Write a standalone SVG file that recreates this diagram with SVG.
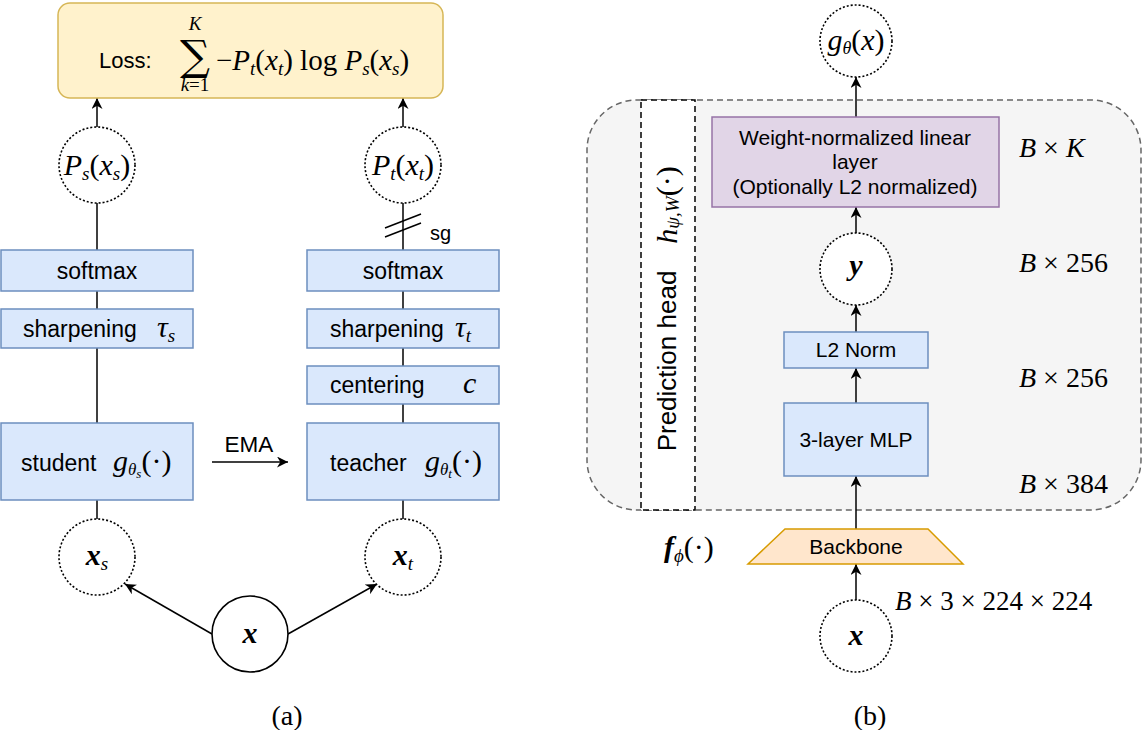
<svg xmlns="http://www.w3.org/2000/svg" width="1144" height="730" viewBox="0 0 1144 730">
<defs>
<marker id="arr" viewBox="0 0 10 10" refX="10" refY="5" markerWidth="11" markerHeight="11" markerUnits="userSpaceOnUse" orient="auto">
<path d="M0,0 L10,5 L0,10 L3,5 z" fill="#000"/>
</marker>
<style>
.sans{font-family:"Liberation Sans",Arial,sans-serif;font-size:21px;fill:#000}
.m{font-family:"Liberation Serif","Times New Roman",serif;font-style:italic;font-size:30px;fill:#000}
.d{font-family:"Liberation Serif","Times New Roman",serif;font-style:italic;font-size:28px;fill:#000}
.r{font-style:normal}
.cap{font-family:"Liberation Serif","Times New Roman",serif;font-size:28px;fill:#000}
.blue{fill:#dae8fc;stroke:#6c8ebf;stroke-width:1.5}
.dot{fill:#fff;stroke:#000;stroke-width:1.6;stroke-dasharray:2,2}
.ln{stroke:#000;stroke-width:1.5;fill:none}
</style>
</defs>
<rect width="1144" height="730" fill="#fff"/>

<!-- panel (b) container -->
<g id="container">
<rect x="587" y="100" width="554" height="410" rx="50" ry="50" fill="#f5f5f5" stroke="#666" stroke-width="1.5" stroke-dasharray="6,4"/>
</g>
<g id="prediction-head">
<rect x="641" y="100" width="54" height="410" fill="#fff" stroke="#000" stroke-width="1.5" stroke-dasharray="6,4"/>
<text class="sans" x="667" y="361" style="font-size:26px" text-anchor="middle" dominant-baseline="central" transform="rotate(-90 667 361)">Prediction head</text>
<text class="m" x="666" y="205" text-anchor="middle" dominant-baseline="central" transform="rotate(-90 666 205)">h<tspan font-size="19" dy="6">ψ,W</tspan><tspan class="r" dy="-6">(·)</tspan></text>
</g>

<g id="connectors">
<!-- panel a -->
<line class="ln" x1="97" y1="127" x2="97" y2="98" marker-end="url(#arr)"/>
<line class="ln" x1="403" y1="127" x2="403" y2="98" marker-end="url(#arr)"/>
<line class="ln" x1="97" y1="203" x2="97" y2="250"/>
<line class="ln" x1="97" y1="291" x2="97" y2="309"/>
<line class="ln" x1="97" y1="348" x2="97" y2="423"/>
<line class="ln" x1="97" y1="500" x2="97" y2="519"/>
<line class="ln" x1="403" y1="203" x2="403" y2="250"/>
<line class="ln" x1="403" y1="291" x2="403" y2="309"/>
<line class="ln" x1="403" y1="348" x2="403" y2="366"/>
<line class="ln" x1="403" y1="404" x2="403" y2="423"/>
<line class="ln" x1="403" y1="500" x2="403" y2="519"/>
<line class="ln" x1="385" y1="228" x2="421" y2="214"/>
<line class="ln" x1="385" y1="237" x2="421" y2="223"/>
<line class="ln" x1="212" y1="462" x2="288" y2="462" marker-end="url(#arr)"/>
<line class="ln" x1="212" y1="634" x2="125" y2="584" marker-end="url(#arr)"/>
<line class="ln" x1="288" y1="634" x2="377" y2="584" marker-end="url(#arr)"/>
<!-- panel b -->
<line class="ln" x1="856" y1="117" x2="856" y2="77" marker-end="url(#arr)"/>
<line class="ln" x1="856" y1="233" x2="856" y2="207" marker-end="url(#arr)"/>
<line class="ln" x1="856" y1="332" x2="856" y2="305" marker-end="url(#arr)"/>
<line class="ln" x1="856" y1="403" x2="856" y2="368" marker-end="url(#arr)"/>
<line class="ln" x1="856" y1="529" x2="856" y2="476" marker-end="url(#arr)"/>
<line class="ln" x1="856" y1="600" x2="856" y2="564" marker-end="url(#arr)"/>
</g>
<text class="sans" x="430" y="240" style="font-size:20px">sg</text>
<text class="sans" x="249" y="452" style="font-size:22.5px" text-anchor="middle">EMA</text>

<!-- panel a nodes -->
<g id="loss">
<rect x="58" y="3" width="385" height="95" rx="12" ry="12" fill="#fff2cc" stroke="#d6b656" stroke-width="1.5"/>
<text class="sans" x="99" y="68" style="font-size:22px">Loss:</text>
<text x="195" y="70" font-family="'DejaVu Serif',serif" font-size="42" text-anchor="middle">∑</text>
<text class="m" x="195" y="30" style="font-size:19px" text-anchor="middle">K</text>
<text class="m" x="195" y="91" style="font-size:19px" text-anchor="middle">k<tspan class="r">=1</tspan></text>
<text class="m" x="216" y="70" style="font-size:29px"><tspan class="r">−</tspan>P<tspan font-size="19" dy="5">t</tspan><tspan class="r" dy="-5">(</tspan>x<tspan font-size="19" dy="5">t</tspan><tspan class="r" dy="-5">) log </tspan>P<tspan font-size="19" dy="5">s</tspan><tspan class="r" dy="-5">(</tspan>x<tspan font-size="19" dy="5">s</tspan><tspan class="r" dy="-5">)</tspan></text>
</g>
<g id="ps">
<circle class="dot" cx="97" cy="165" r="38"/>
<text class="m" x="97" y="175" text-anchor="middle">P<tspan font-size="19" dy="5">s</tspan><tspan class="r" dy="-5">(</tspan>x<tspan font-size="19" dy="5">s</tspan><tspan class="r" dy="-5">)</tspan></text>
</g>
<g id="pt">
<circle class="dot" cx="403" cy="165" r="38"/>
<text class="m" x="403" y="175" text-anchor="middle">P<tspan font-size="19" dy="5">t</tspan><tspan class="r" dy="-5">(</tspan>x<tspan font-size="19" dy="5">t</tspan><tspan class="r" dy="-5">)</tspan></text>
</g>
<g id="softmax-s">
<rect class="blue" x="1" y="250" width="192" height="41"/>
<text class="sans" x="97" y="279" style="font-size:23px" text-anchor="middle">softmax</text>
</g>
<g id="sharpen-s">
<rect class="blue" x="1" y="309" width="192" height="39"/>
<text class="sans" x="23" y="337" style="font-size:23px">sharpening</text>
<text class="m" x="157" y="337">τ<tspan font-size="19" dy="5">s</tspan></text>
</g>
<g id="student">
<rect class="blue" x="1" y="423" width="192" height="77"/>
<text class="sans" x="21" y="471" style="font-size:23px">student</text>
<text class="m" x="113" y="471">g<tspan font-size="17" dy="4">θ</tspan><tspan font-size="13" dy="3">s</tspan><tspan class="r" dy="-7">(·)</tspan></text>
</g>
<g id="softmax-t">
<rect class="blue" x="307" y="250" width="192" height="41"/>
<text class="sans" x="403" y="279" style="font-size:23px" text-anchor="middle">softmax</text>
</g>
<g id="sharpen-t">
<rect class="blue" x="307" y="309" width="192" height="39"/>
<text class="sans" x="330" y="337" style="font-size:23px">sharpening</text>
<text class="m" x="455" y="337">τ<tspan font-size="19" dy="5">t</tspan></text>
</g>
<g id="centering">
<rect class="blue" x="307" y="366" width="192" height="38"/>
<text class="sans" x="330" y="393" style="font-size:23px">centering</text>
<text class="m" x="463" y="393">c</text>
</g>
<g id="teacher">
<rect class="blue" x="307" y="423" width="192" height="77"/>
<text class="sans" x="330" y="471" style="font-size:23px">teacher</text>
<text class="m" x="425" y="471">g<tspan font-size="17" dy="4">θ</tspan><tspan font-size="13" dy="3">t</tspan><tspan class="r" dy="-7">(·)</tspan></text>
</g>
<g id="xs">
<circle class="dot" cx="97" cy="557" r="38"/>
<text class="m" x="97" y="565" font-weight="bold" text-anchor="middle">x<tspan font-size="19" font-weight="normal" dy="5">s</tspan></text>
</g>
<g id="xt">
<circle class="dot" cx="403" cy="557" r="38"/>
<text class="m" x="403" y="565" font-weight="bold" text-anchor="middle">x<tspan font-size="19" font-weight="normal" dy="5">t</tspan></text>
</g>
<g id="x-a">
<circle cx="250" cy="634" r="38" fill="#fff" stroke="#000" stroke-width="1.6"/>
<text class="m" x="250" y="643" font-weight="bold" text-anchor="middle">x</text>
</g>
<text class="cap" x="287" y="725" text-anchor="middle">(a)</text>

<!-- panel b nodes -->
<g id="g-out">
<circle class="dot" cx="856" cy="41" r="36"/>
<text class="m" x="856" y="50" text-anchor="middle">g<tspan font-size="18" dy="4">θ</tspan><tspan class="r" dy="-4">(</tspan>x<tspan class="r">)</tspan></text>
</g>
<g id="wn-layer">
<rect x="712" y="117" width="287" height="90" fill="#e1d5e7" stroke="#9673a6" stroke-width="1.5"/>
<text class="sans" x="855" y="145" text-anchor="middle">Weight-normalized linear</text>
<text class="sans" x="855" y="169" text-anchor="middle">layer</text>
<text class="sans" x="855" y="194" text-anchor="middle">(Optionally L2 normalized)</text>
</g>
<g id="y">
<circle class="dot" cx="856" cy="269" r="36"/>
<text class="m" x="856" y="275" font-weight="bold" text-anchor="middle">y</text>
</g>
<g id="l2norm">
<rect class="blue" x="784" y="332" width="144" height="36"/>
<text class="sans" x="856" y="357" text-anchor="middle">L2 Norm</text>
</g>
<g id="mlp">
<rect class="blue" x="784" y="403" width="144" height="73"/>
<text class="sans" x="856" y="447" text-anchor="middle">3-layer MLP</text>
</g>
<g id="backbone">
<polygon points="785,529 928,529 963,564 748,564" fill="#ffe6cc" stroke="#d79b00" stroke-width="1.5"/>
<text class="sans" x="856" y="554" text-anchor="middle">Backbone</text>
</g>
<g id="x-b">
<circle class="dot" cx="856" cy="636" r="36"/>
<text class="m" x="856" y="645" font-weight="bold" text-anchor="middle">x</text>
</g>
<g id="dims">
<text class="d" x="1019" y="157">B <tspan class="r">×</tspan> K</text>
<text class="d" x="1019" y="272">B <tspan class="r">× 256</tspan></text>
<text class="d" x="1019" y="387">B <tspan class="r">× 256</tspan></text>
<text class="d" x="1019" y="493">B <tspan class="r">× 384</tspan></text>
<text class="d" x="895" y="610" style="font-size:27px">B <tspan class="r">× 3 × 224 × 224</tspan></text>
<text class="m" x="664" y="557" font-weight="bold">f<tspan font-size="19" font-weight="normal" dy="5">ϕ</tspan><tspan class="r" font-weight="normal" dy="-5">(·)</tspan></text>
</g>
<text class="cap" x="870" y="725" text-anchor="middle">(b)</text>
</svg>
